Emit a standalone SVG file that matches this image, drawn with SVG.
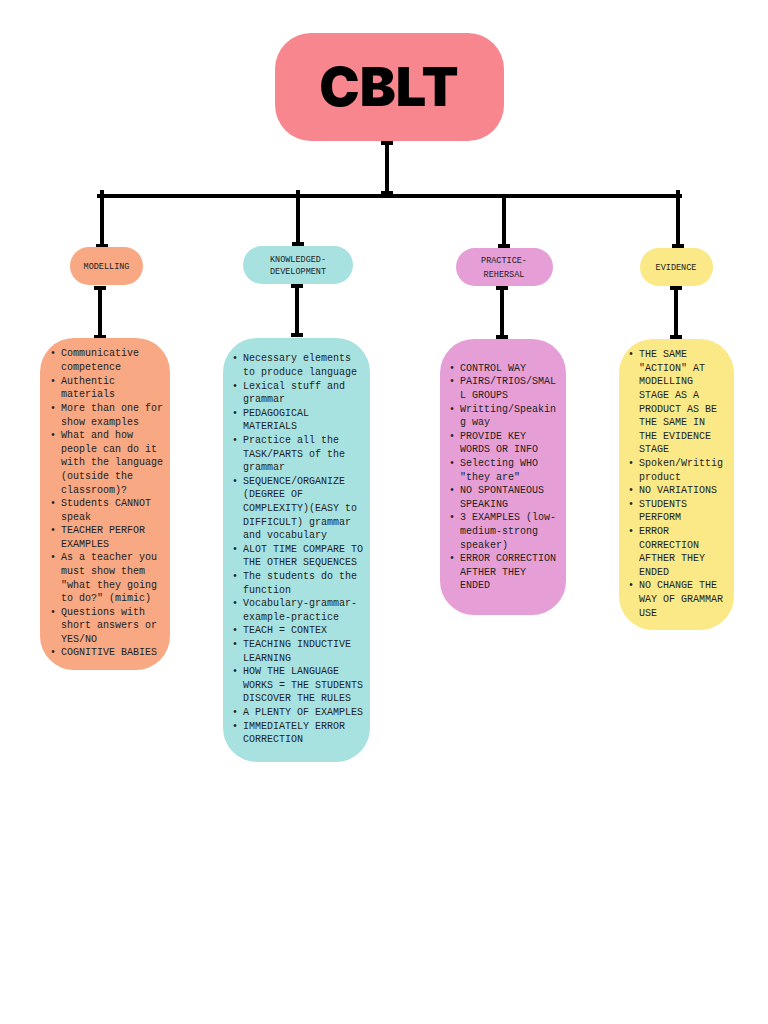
<svg xmlns="http://www.w3.org/2000/svg" width="768" height="1024" viewBox="0 0 768 1024">
<style>
.t{font-family:"Liberation Mono",monospace;font-size:10px;fill:#222}
.l{font-family:"Liberation Mono",monospace;font-size:8.5px;fill:#222;text-anchor:middle}
.c{stroke:#000;stroke-width:4;fill:none}
</style>
<rect width="768" height="1024" fill="#fff"/>
<g id="connectors">
<path class="c" d="M387 143V194M381 143H393M381 193H393M97 196H682"/>
<path class="c" d="M102 190V246M96 246H108M298 190V244M292 244H304M504 196V246M498 246H510M678 190V246M672 246H684"/>
<path class="c" d="M100 288V337M94 288H106M94 337H106M297 286V335M291 286H303M291 335H303M502 288V337M496 288H508M496 337H508M676 288V337M670 288H682M670 337H682"/>
</g>
<g id="cblt"><rect x="275" y="33" width="229" height="108" rx="36" fill="#f7868f"/>
<text x="389" y="106" text-anchor="middle" font-family="Inter,'Liberation Sans',sans-serif" font-weight="900" font-size="54" fill="#000">CBLT</text></g>
<g id="modelling"><rect x="70" y="247" width="73" height="38" rx="19" fill="#f8a882"/><text class="l" x="106.5" y="269">MODELLING</text></g>
<g id="kd"><rect x="243" y="246" width="110" height="38" rx="19" fill="#a8e2e0"/><text class="l" x="298" y="262">KNOWLEDGED-</text><text class="l" x="298" y="274">DEVELOPMENT</text></g>
<g id="pr"><rect x="456" y="248" width="97" height="38" rx="19" fill="#e59ed6"/><text class="l" x="504" y="263">PRACTICE-</text><text class="l" x="504" y="277">REHERSAL</text></g>
<g id="ev"><rect x="640" y="248" width="73" height="38" rx="19" fill="#fbe886"/><text class="l" x="676" y="270">EVIDENCE</text></g>
<g id="modelling-box"><rect x="40" y="338" width="130" height="332" rx="34" fill="#f8a882"/>
<text class="t"><tspan x="50" y="356">•</tspan><tspan x="61" y="356">Communicative</tspan><tspan x="61" y="370">competence</tspan><tspan x="50" y="384">•</tspan><tspan x="61" y="384">Authentic</tspan><tspan x="61" y="397">materials</tspan><tspan x="50" y="411">•</tspan><tspan x="61" y="411">More than one for</tspan><tspan x="61" y="425">show examples</tspan><tspan x="50" y="438">•</tspan><tspan x="61" y="438">What and how</tspan><tspan x="61" y="452">people can do it</tspan><tspan x="61" y="465">with the language</tspan><tspan x="61" y="479">(outside the</tspan><tspan x="61" y="493">classroom)?</tspan><tspan x="50" y="506">•</tspan><tspan x="61" y="506">Students CANNOT</tspan><tspan x="61" y="520">speak</tspan><tspan x="50" y="533">•</tspan><tspan x="61" y="533">TEACHER PERFOR</tspan><tspan x="61" y="547">EXAMPLES</tspan><tspan x="50" y="560">•</tspan><tspan x="61" y="560">As a teacher you</tspan><tspan x="61" y="574">must show them</tspan><tspan x="61" y="588">"what they going</tspan><tspan x="61" y="601">to do?" (mimic)</tspan><tspan x="50" y="615">•</tspan><tspan x="61" y="615">Questions with</tspan><tspan x="61" y="628">short answers or</tspan><tspan x="61" y="642">YES/NO</tspan><tspan x="50" y="655">•</tspan><tspan x="61" y="655">COGNITIVE BABIES</tspan></text></g>
<g id="kd-box"><rect x="223" y="338" width="147" height="424" rx="34" fill="#a8e2e0"/>
<text class="t"><tspan x="232" y="361">•</tspan><tspan x="243" y="361">Necessary elements</tspan><tspan x="243" y="375">to produce language</tspan><tspan x="232" y="389">•</tspan><tspan x="243" y="389">Lexical stuff and</tspan><tspan x="243" y="402">grammar</tspan><tspan x="232" y="416">•</tspan><tspan x="243" y="416">PEDAGOGICAL</tspan><tspan x="243" y="429">MATERIALS</tspan><tspan x="232" y="443">•</tspan><tspan x="243" y="443">Practice all the</tspan><tspan x="243" y="457">TASK/PARTS of the</tspan><tspan x="243" y="470">grammar</tspan><tspan x="232" y="484">•</tspan><tspan x="243" y="484">SEQUENCE/ORGANIZE</tspan><tspan x="243" y="497">(DEGREE OF</tspan><tspan x="243" y="511">COMPLEXITY)(EASY to</tspan><tspan x="243" y="525">DIFFICULT) grammar</tspan><tspan x="243" y="538">and vocabulary</tspan><tspan x="232" y="552">•</tspan><tspan x="243" y="552">ALOT TIME COMPARE TO</tspan><tspan x="243" y="565">THE OTHER SEQUENCES</tspan><tspan x="232" y="579">•</tspan><tspan x="243" y="579">The students do the</tspan><tspan x="243" y="593">function</tspan><tspan x="232" y="606">•</tspan><tspan x="243" y="606">Vocabulary-grammar-</tspan><tspan x="243" y="620">example-practice</tspan><tspan x="232" y="633">•</tspan><tspan x="243" y="633">TEACH = CONTEX</tspan><tspan x="232" y="647">•</tspan><tspan x="243" y="647">TEACHING INDUCTIVE</tspan><tspan x="243" y="661">LEARNING</tspan><tspan x="232" y="674">•</tspan><tspan x="243" y="674">HOW THE LANGUAGE</tspan><tspan x="243" y="688">WORKS = THE STUDENTS</tspan><tspan x="243" y="701">DISCOVER THE RULES</tspan><tspan x="232" y="715">•</tspan><tspan x="243" y="715">A PLENTY OF EXAMPLES</tspan><tspan x="232" y="729">•</tspan><tspan x="243" y="729">IMMEDIATELY ERROR</tspan><tspan x="243" y="742">CORRECTION</tspan></text></g>
<g id="pr-box"><rect x="440" y="339" width="126" height="276" rx="34" fill="#e59ed6"/>
<text class="t"><tspan x="449" y="371">•</tspan><tspan x="460" y="371">CONTROL WAY</tspan><tspan x="449" y="384">•</tspan><tspan x="460" y="384">PAIRS/TRIOS/SMAL</tspan><tspan x="460" y="398">L GROUPS</tspan><tspan x="449" y="412">•</tspan><tspan x="460" y="412">Writting/Speakin</tspan><tspan x="460" y="425">g way</tspan><tspan x="449" y="439">•</tspan><tspan x="460" y="439">PROVIDE KEY</tspan><tspan x="460" y="452">WORDS OR INFO</tspan><tspan x="449" y="466">•</tspan><tspan x="460" y="466">Selecting WHO</tspan><tspan x="460" y="480">"they are"</tspan><tspan x="449" y="493">•</tspan><tspan x="460" y="493">NO SPONTANEOUS</tspan><tspan x="460" y="507">SPEAKING</tspan><tspan x="449" y="520">•</tspan><tspan x="460" y="520">3 EXAMPLES (low-</tspan><tspan x="460" y="534">medium-strong</tspan><tspan x="460" y="548">speaker)</tspan><tspan x="449" y="561">•</tspan><tspan x="460" y="561">ERROR CORRECTION</tspan><tspan x="460" y="575">AFTHER THEY</tspan><tspan x="460" y="588">ENDED</tspan></text></g>
<g id="ev-box"><rect x="619" y="339" width="115" height="291" rx="34" fill="#fbe886"/>
<text class="t"><tspan x="628" y="357">•</tspan><tspan x="639" y="357">THE SAME</tspan><tspan x="639" y="371">"ACTION" AT</tspan><tspan x="639" y="384">MODELLING</tspan><tspan x="639" y="398">STAGE AS A</tspan><tspan x="639" y="412">PRODUCT AS BE</tspan><tspan x="639" y="425">THE SAME IN</tspan><tspan x="639" y="439">THE EVIDENCE</tspan><tspan x="639" y="452">STAGE</tspan><tspan x="628" y="466">•</tspan><tspan x="639" y="466">Spoken/Writtig</tspan><tspan x="639" y="480">product</tspan><tspan x="628" y="493">•</tspan><tspan x="639" y="493">NO VARIATIONS</tspan><tspan x="628" y="507">•</tspan><tspan x="639" y="507">STUDENTS</tspan><tspan x="639" y="520">PERFORM</tspan><tspan x="628" y="534">•</tspan><tspan x="639" y="534">ERROR</tspan><tspan x="639" y="548">CORRECTION</tspan><tspan x="639" y="561">AFTHER THEY</tspan><tspan x="639" y="575">ENDED</tspan><tspan x="628" y="588">•</tspan><tspan x="639" y="588">NO CHANGE THE</tspan><tspan x="639" y="602">WAY OF GRAMMAR</tspan><tspan x="639" y="616">USE</tspan></text></g>
</svg>
